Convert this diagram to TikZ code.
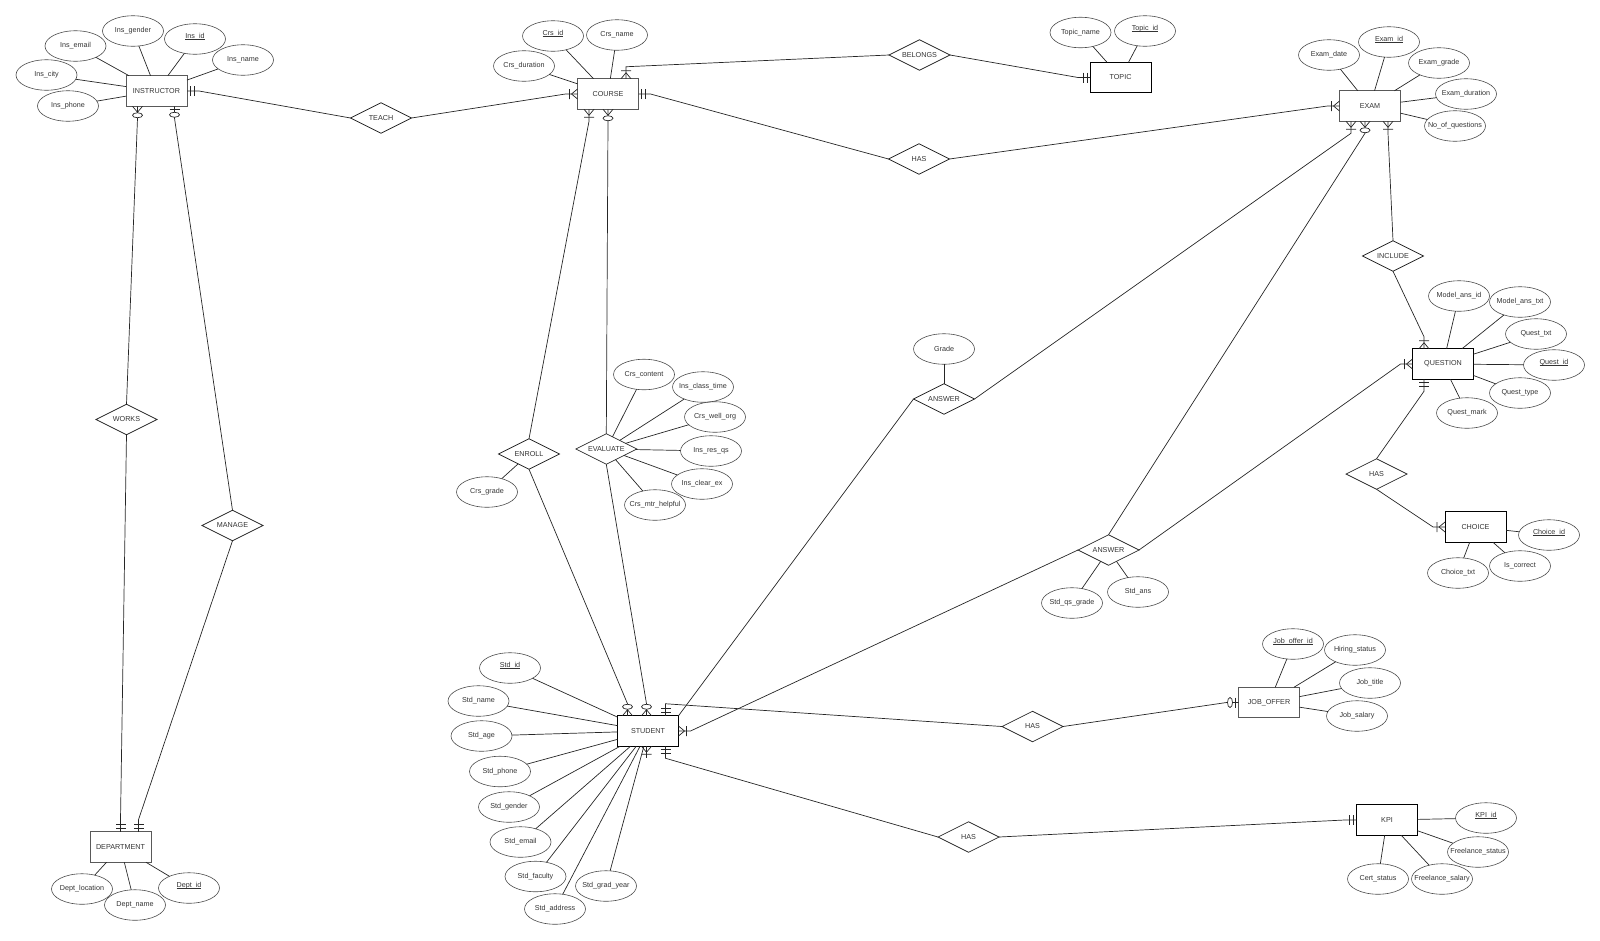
\documentclass[tikz,border=0pt]{standalone}
\usepackage{fontspec}
\setmainfont{Liberation Sans}
\usetikzlibrary{shapes.geometric}
\tikzstyle{entity}=[rectangle, draw=black!65, line width=0.7pt, minimum width=61pt, minimum height=30.5pt, inner sep=0pt, outer sep=0pt, font=\fontsize{7.2}{8}\selectfont, text=black!80]
\tikzstyle{attr}=[ellipse, draw=black!70, line width=0.6pt, minimum width=61pt, minimum height=30.5pt, inner xsep=-30pt, inner ysep=0pt, outer sep=0pt, font=\fontsize{7.2}{8}\selectfont, text=black!80]
\tikzstyle{rel}=[diamond, draw=black!85, line width=0.7pt, aspect=2, minimum width=61pt, minimum height=30.5pt, inner sep=0pt, outer sep=0pt, font=\fontsize{7.2}{8}\selectfont, text=black!80]
\tikzstyle{link}=[draw=black!85, line width=0.7pt]
\newcommand{\keyname}[1]{\underline{\smash{#1}}}
\tikzset{
  markone/.pic={\draw[link] (3pt,-5pt) -- (3pt,5pt) (7pt,-5pt) -- (7pt,5pt);},
  markonemany/.pic={\draw[link] (0pt,5pt) -- (6pt,0pt) -- (0pt,-5pt) (8pt,-5pt) -- (8pt,5pt);},
  markzeromany/.pic={\draw[link] (0pt,5pt) -- (6pt,0pt) -- (0pt,-5pt); \draw[link, fill=white] (9pt,0pt) ellipse (2.5pt and 5pt);},
  markzeroone/.pic={\draw[link] (3.5pt,-5pt) -- (3.5pt,5pt); \draw[link, fill=white] (8.5pt,0pt) ellipse (2.5pt and 5pt);}
}

\begin{document}
\begin{tikzpicture}[x=1pt,y=-1pt]
    \useasboundingbox (0,-1) rectangle (1600,939);

    % The entities
    \node[entity] (instructor) at (156.5,90) {INSTRUCTOR};
    \node[entity] (course) at (608,93) {COURSE};
    \node[entity, draw=black] (topic) at (1120.5,76.5) {TOPIC};
    \node[entity] (exam) at (1370,105) {EXAM};
    \node[entity, draw=black] (question) at (1443,363) {QUESTION};
    \node[entity, draw=black] (choice) at (1475.5,526) {CHOICE};
    \node[entity, draw=black] (student) at (648,730) {STUDENT};
    \node[entity] (joboffer) at (1269,701.5) {JOB\_OFFER};
    \node[entity, draw=black] (kpi) at (1387,819) {KPI};
    \node[entity] (department) at (120.5,846) {DEPARTMENT};

    % The relations
    \node[rel] (teach) at (381,117) {TEACH};
    \node[rel] (belongs) at (919.5,54) {BELONGS};
    \node[rel] (hasexam) at (919,158) {HAS};
    \node[rel] (include) at (1393,255) {INCLUDE};
    \node[rel] (haschoice) at (1376.5,473) {HAS};
    \node[rel] (answerexam) at (944,398) {ANSWER};
    \node[rel] (answerquest) at (1108.5,549) {ANSWER};
    \node[rel] (enroll) at (529,453) {ENROLL};
    \node[rel] (evaluate) at (606.3,448) {EVALUATE};
    \node[rel] (works) at (126.5,418.5) {WORKS};
    \node[rel] (manage) at (232.5,524.5) {MANAGE};
    \node[rel] (hasjob) at (1032.5,725.5) {HAS};
    \node[rel] (haskpi) at (968.5,836) {HAS};

    % The attributes
    \node[attr] (inscity) at (46.5,74) {Ins\_city};
    \node[attr] (insphone) at (68,105) {Ins\_phone};
    \node[attr] (insemail) at (75.5,45) {Ins\_email};
    \node[attr] (insgender) at (133,30) {Ins\_gender};
    \node[attr] (insid) at (195,38) {\keyname{Ins\_id}};
    \node[attr] (insname) at (243,59) {Ins\_name};

    \node[attr] (crsid) at (553,35) {\keyname{Crs\_id}};
    \node[attr] (crsname) at (617,34) {Crs\_name};
    \node[attr] (crsduration) at (524,65) {Crs\_duration};

    \node[attr] (topicname) at (1080.5,31.5) {Topic\_name};
    \node[attr] (topicid) at (1145,30) {\keyname{Topic\_id}};

    \node[attr] (examdate) at (1329,54) {Exam\_date};
    \node[attr] (examid) at (1389,41) {\keyname{Exam\_id}};
    \node[attr] (examgrade) at (1439,62) {Exam\_grade};
    \node[attr] (examduration) at (1466,93) {Exam\_duration};
    \node[attr] (noquestions) at (1455,125) {No\_of\_questions};

    \node[attr] (modelid) at (1459,295) {Model\_ans\_id};
    \node[attr] (modeltxt) at (1520,301) {Model\_ans\_txt};
    \node[attr] (questtxt) at (1536,333) {Quest\_txt};
    \node[attr] (questid) at (1554,364) {\keyname{Quest\_id}};
    \node[attr] (questtype) at (1520,392) {Quest\_type};
    \node[attr] (questmark) at (1467,412) {Quest\_mark};

    \node[attr] (choiceid) at (1549,534) {\keyname{Choice\_id}};
    \node[attr] (iscorrect) at (1520,565) {Is\_correct};
    \node[attr] (choicetxt) at (1458,572) {Choice\_txt};

    \node[attr] (grade) at (944,348) {Grade};
    \node[attr] (crsgrade) at (487,491) {Crs\_grade};
    \node[attr] (crscontent) at (644,373.5) {Crs\_content};
    \node[attr] (insclass) at (703,386) {Ins\_class\_time};
    \node[attr] (crswell) at (715,416) {Crs\_well\_org};
    \node[attr] (insres) at (711,450) {Ins\_res\_qs};
    \node[attr] (insclear) at (702,483) {Ins\_clear\_ex};
    \node[attr] (crsmtr) at (655,504) {Crs\_mtr\_helpful};
    \node[attr] (stdqs) at (1072,602) {Std\_qs\_grade};
    \node[attr] (stdans) at (1138,591) {Std\_ans};

    \node[attr] (jobid) at (1293,643) {\keyname{Job\_offer\_id}};
    \node[attr] (hiring) at (1355,649) {Hiring\_status};
    \node[attr] (jobtitle) at (1370,682) {Job\_title};
    \node[attr] (jobsalary) at (1357,715) {Job\_salary};

    \node[attr] (kpiid) at (1486,817) {\keyname{KPI\_id}};
    \node[attr] (freestatus) at (1478,851) {Freelance\_status};
    \node[attr] (freesalary) at (1442,878) {Freelance\_salary};
    \node[attr] (certstatus) at (1378,878) {Cert\_status};

    \node[attr] (stdid) at (510,667) {\keyname{Std\_id}};
    \node[attr] (stdname) at (478.5,700) {Std\_name};
    \node[attr] (stdage) at (481.5,735) {Std\_age};
    \node[attr] (stdphone) at (500,770.5) {Std\_phone};
    \node[attr] (stdgender) at (509,806) {Std\_gender};
    \node[attr] (stdemail) at (520.5,841) {Std\_email};
    \node[attr] (stdfaculty) at (535.5,875.5) {Std\_faculty};
    \node[attr] (stdgrad) at (606,885) {Std\_grad\_year};
    \node[attr] (stdaddress) at (555,908) {Std\_address};

    \node[attr] (deptlocation) at (82,888) {Dept\_location};
    \node[attr] (deptname) at (135,904) {Dept\_name};
    \node[attr] (deptid) at (189,887) {\keyname{Dept\_id}};

    % The attribute lines
    \draw[link] (inscity) -- (instructor);
    \draw[link] (insphone) -- (instructor);
    \draw[link] (insemail) -- (instructor);
    \draw[link] (insgender) -- (instructor);
    \draw[link] (insid) -- (instructor);
    \draw[link] (insname) -- (instructor);
    \draw[link] (crsid) -- (course);
    \draw[link] (crsname) -- (course);
    \draw[link] (crsduration) -- (course);
    \draw[link] (topicname) -- (topic);
    \draw[link] (topicid) -- (topic);
    \draw[link] (examdate) -- (exam);
    \draw[link] (examid) -- (exam);
    \draw[link] (examgrade) -- (exam);
    \draw[link] (examduration) -- (exam);
    \draw[link] (noquestions) -- (exam);
    \draw[link] (modelid) -- (question);
    \draw[link] (modeltxt) -- (question);
    \draw[link] (questtxt) -- (question);
    \draw[link] (questid) -- (question);
    \draw[link] (questtype) -- (question);
    \draw[link] (questmark) -- (question);
    \draw[link] (choiceid) -- (choice);
    \draw[link] (iscorrect) -- (choice);
    \draw[link] (choicetxt) -- (choice);
    \draw[link] (grade) -- (answerexam);
    \draw[link] (crsgrade) -- (enroll);
    \draw[link] (crscontent) -- (evaluate);
    \draw[link] (insclass) -- (evaluate);
    \draw[link] (crswell) -- (evaluate);
    \draw[link] (insres) -- (evaluate);
    \draw[link] (insclear) -- (evaluate);
    \draw[link] (crsmtr) -- (evaluate);
    \draw[link] (stdqs) -- (answerquest);
    \draw[link] (stdans) -- (answerquest);
    \draw[link] (jobid) -- (joboffer);
    \draw[link] (hiring) -- (joboffer);
    \draw[link] (jobtitle) -- (joboffer);
    \draw[link] (jobsalary) -- (joboffer);
    \draw[link] (kpiid) -- (kpi);
    \draw[link] (freestatus) -- (kpi);
    \draw[link] (freesalary) -- (kpi);
    \draw[link] (certstatus) -- (kpi);
    \draw[link] (stdid) -- (student);
    \draw[link] (stdname) -- (student);
    \draw[link] (stdage) -- (student);
    \draw[link] (stdphone) -- (student);
    \draw[link] (stdgender) -- (student);
    \draw[link] (stdemail) -- (student);
    \draw[link] (stdfaculty) -- (student);
    \draw[link] (stdgrad) -- (student);
    \draw[link] (stdaddress) -- (student);
    \draw[link] (deptlocation) -- (department);
    \draw[link] (deptname) -- (department);
    \draw[link] (deptid) -- (department);

    % The points where the relations meet the entities
    \coordinate (insworks) at ([xshift=-19pt]instructor.south);
    \coordinate (insmanage) at ([xshift=18pt]instructor.south);
    \coordinate (deptworks) at (department.north);
    \coordinate (deptmanage) at ([xshift=18pt]department.north);
    \coordinate (crsbelongs) at ([xshift=18pt]course.north);
    \coordinate (crsenroll) at ([xshift=-19pt]course.south);
    \coordinate (crsevaluate) at (course.south);
    \coordinate (examanswer) at ([xshift=-19pt]exam.south);
    \coordinate (examquest) at ([xshift=-5pt]exam.south);
    \coordinate (examinclude) at ([xshift=18pt]exam.south);
    \coordinate (questinclude) at ([xshift=-19pt]question.north);
    \coordinate (questhas) at ([xshift=-19pt]question.south);
    \coordinate (stdenroll) at ([xshift=-20.5pt]student.north);
    \coordinate (stdevaluate) at ([xshift=-1.5pt]student.north);
    \coordinate (stdjob) at ([xshift=17.5pt]student.north);
    \coordinate (stdkpi) at ([xshift=17.5pt]student.south);
    \coordinate (stdfree) at ([xshift=-1.5pt]student.south);

    % The relation lines
    \draw[link] (teach.west) -- ([xshift=12pt]instructor.east) -- (instructor.east);
    \draw[link] (teach.east) -- ([xshift=-12pt]course.west) -- (course.west);
    \draw[link] (works.north) -- ([yshift=-12pt]insworks) -- (insworks);
    \draw[link] (works.south) -- ([yshift=12pt]deptworks) -- (deptworks);
    \draw[link] (manage.north) -- ([yshift=-12pt]insmanage) -- (insmanage);
    \draw[link] (manage.south) -- ([yshift=12pt]deptmanage) -- (deptmanage);
    \draw[link] (belongs.west) -- ([yshift=12pt]crsbelongs) -- (crsbelongs);
    \draw[link] (belongs.east) -- ([xshift=-12pt]topic.west) -- (topic.west);
    \draw[link] (hasexam.west) -- ([xshift=12pt]course.east) -- (course.east);
    \draw[link] (hasexam.east) -- ([xshift=-12pt]exam.west) -- (exam.west);
    \draw[link] (enroll.north) -- ([yshift=-12pt]crsenroll) -- (crsenroll);
    \draw[link] (enroll.south) -- ([yshift=12pt]stdenroll) -- (stdenroll);
    \draw[link] (evaluate.north) -- ([yshift=-12pt]crsevaluate) -- (crsevaluate);
    \draw[link] (evaluate.south) -- ([yshift=12pt]stdevaluate) -- (stdevaluate);
    \draw[link] (answerexam.east) -- ([yshift=-12pt]examanswer) -- (examanswer);
    \draw[link] (answerexam.west) -- (student.north east);
    \draw[link] (answerquest.north) -- ([yshift=-12pt]examquest) -- (examquest);
    \draw[link] (answerquest.east) -- ([xshift=-12pt]question.west) -- (question.west);
    \draw[link] (answerquest.west) -- ([xshift=12pt]student.east) -- (student.east);
    \draw[link] (include.north) -- ([yshift=-12pt]examinclude) -- (examinclude);
    \draw[link] (include.south) -- ([yshift=12pt]questinclude) -- (questinclude);
    \draw[link] (haschoice.north) -- ([yshift=-12pt]questhas) -- (questhas);
    \draw[link] (haschoice.south) -- ([xshift=-12pt]choice.west) -- (choice.west);
    \draw[link] (hasjob.west) -- ([yshift=12pt]stdjob) -- (stdjob);
    \draw[link] (hasjob.east) -- ([xshift=-12pt]joboffer.west) -- (joboffer.west);
    \draw[link] (haskpi.west) -- ([yshift=-12pt]stdkpi) -- (stdkpi);
    \draw[link] (haskpi.east) -- ([xshift=-12pt]kpi.west) -- (kpi.west);
    \draw[link] (stdfree) -- ([yshift=-12pt]stdfree);

    % The cardinality marks
    \pic at (instructor.east) {markone};
    \pic[rotate=180] at (course.west) {markonemany};
    \pic[rotate=-90] at (insworks) {markzeromany};
    \pic[rotate=-90] at (insmanage) {markzeroone};
    \pic[rotate=90] at (deptworks) {markone};
    \pic[rotate=90] at (deptmanage) {markone};
    \pic[rotate=90] at (crsbelongs) {markonemany};
    \pic[rotate=180] at (topic.west) {markone};
    \pic at (course.east) {markone};
    \pic[rotate=180] at (exam.west) {markonemany};
    \pic[rotate=-90] at (crsenroll) {markonemany};
    \pic[rotate=-90] at (crsevaluate) {markzeromany};
    \pic[rotate=90] at (stdenroll) {markzeromany};
    \pic[rotate=90] at (stdevaluate) {markzeromany};
    \pic[rotate=-90] at (examanswer) {markonemany};
    \pic[rotate=-90] at (examquest) {markzeromany};
    \pic[rotate=-90] at (examinclude) {markonemany};
    \pic[rotate=90] at (questinclude) {markonemany};
    \pic[rotate=180] at (question.west) {markonemany};
    \pic at (student.east) {markonemany};
    \pic[rotate=-90] at (questhas) {markone};
    \pic[rotate=180] at (choice.west) {markonemany};
    \pic[rotate=90] at (stdjob) {markone};
    \pic[rotate=180] at (joboffer.west) {markzeroone};
    \pic[rotate=-90] at (stdkpi) {markone};
    \pic[rotate=180] at (kpi.west) {markone};
    \pic[rotate=-90] at (stdfree) {markonemany};
\end{tikzpicture}
\end{document}
